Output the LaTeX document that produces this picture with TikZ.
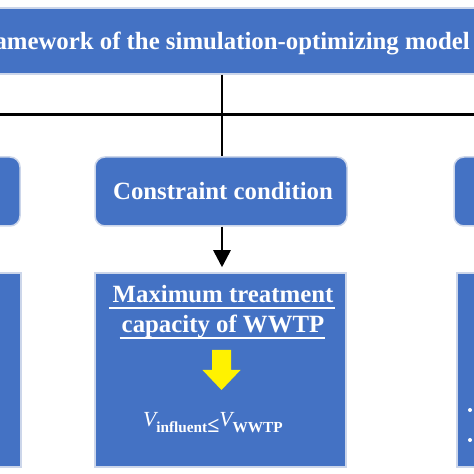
\documentclass[tikz,border=0pt]{standalone}
\usepackage{fontspec}
\setmainfont{Liberation Serif}
\usetikzlibrary{arrows.meta,calc}
\definecolor{boxblue}{HTML}{4472C4}
\definecolor{boxedge}{HTML}{CCD6EA}
\begin{document}
\begin{tikzpicture}[x=1pt,y=1pt,
  bluebox/.style={fill=boxblue,draw=boxedge,line width=1.5pt,inner sep=0pt},
  roundbox/.style={bluebox,rounded corners=10pt},
  conn/.style={line width=2.7pt,black},
  wtxt/.style={text=white,inner sep=0pt,font=\bfseries\fontsize{24.8}{28}\selectfont},
  uline/.style={white,line width=1.5pt}]
\useasboundingbox (0,0) rectangle (474,474);
\clip (0,0) rectangle (474,474);
\fill[white] (0,0) rectangle (474,474);
% top banner
\node[bluebox,minimum width=600pt,minimum height=66pt] (banner) at (222,433) {};
\node[wtxt,anchor=base east] (title) at (470,424) {Framework of the simulation-optimizing model};
% horizontal bus
\coordinate (hL) at (-10,359.5);
\coordinate (hR) at (484,359.5);
\draw[conn] (hL) -- (hR);
% upper row boxes
\node[roundbox,minimum width=252pt,minimum height=69pt] (cons) at (221,282.5) {};
\node[roundbox,minimum width=60pt,minimum height=69pt] (lup) at (-10,282.5) {};
\node[roundbox,minimum width=60pt,minimum height=69pt] (rup) at (484,282.5) {};
\node[wtxt,anchor=base] (constxt) at (223,274) {Constraint condition};
% lower row boxes
\node[bluebox,minimum width=251pt,minimum height=194pt] (low) at (220.5,104) {};
\node[bluebox,minimum width=60pt,minimum height=194pt] (llow) at (-9,104) {};
\node[bluebox,minimum width=60pt,minimum height=194pt] (rlow) at (487,104) {};
% connectors
\draw[conn] (banner.south) -- (banner.south |- cons.north);
\draw[conn,-{Triangle[width=17pt,length=17pt]},shorten >=5pt] (cons.south -| banner.south) -- (low.north -| banner.south);
% lower middle texts
\node[wtxt,anchor=base] (m1) at (223,171) {Maximum treatment};
\node[wtxt,anchor=base] (m2) at (223,141) {capacity of WWTP};
\draw[uline] ([xshift=-3pt,yshift=-5pt]m1.base west) -- ([xshift=1pt,yshift=-5pt]m1.base east);
\draw[uline] ([xshift=-2pt,yshift=-5pt]m2.base west) -- ([xshift=1pt,yshift=-5pt]m2.base east);
% yellow block arrow
\fill[yellow] (212,124) -- (231,124) -- (231,104) -- (240.5,104) -- (221.5,84) -- (202.5,104) -- (212,104) -- cycle;
% equation
\node[text=white,inner sep=0pt,anchor=base west] (eq) at (143,47)
  {\fontsize{21.5}{22}\selectfont\itshape V\raisebox{-6pt}{\upshape\bfseries\fontsize{15.3}{16}\selectfont influent\fontsize{22}{22}\selectfont≤}V\raisebox{-6pt}{\upshape\bfseries\fontsize{15.3}{16}\selectfont WWTP}};
% bullets in right lower box
\fill[white] (470,64) circle (2pt);
\fill[white] (470,34) circle (2pt);
\end{tikzpicture}
\end{document}
